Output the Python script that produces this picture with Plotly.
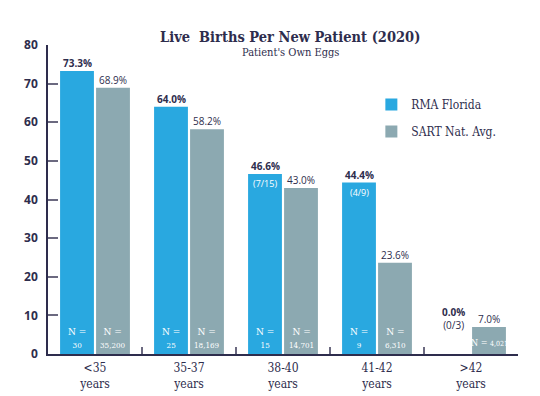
import plotly.graph_objects as go

categories = ["<35<br>years", "35-37<br>years", "38-40<br>years", "41-42<br>years", ">42<br>years"]
rma_values = [73.3, 64.0, 46.6, 44.4, 0.0]
sart_values = [68.9, 58.2, 43.0, 23.6, 7.0]
rma_fraction = ["", "", "(7/15)", "(4/9)", ""]
rma_n = ["30", "25", "15", "9", ""]
sart_n = ["35,200", "18,169", "14,701", "6,310", "4,021"]
y_ticks = [0, 10, 20, 30, 40, 50, 60, 70, 80]

NAVY = "#2e2d4d"
BLUE = "#29a8e0"
GRAY = "#8ca9b1"
SERIF = "DejaVu Serif Condensed"
SANS = "Open Sans"

BARGAP = 0.234
slot = (1 - BARGAP) / 2
d = slot / 2

fig = go.Figure()
fig.add_trace(go.Bar(name="RMA Florida", x=categories, y=rma_values,
                     marker=dict(color=BLUE, line=dict(width=0)), legendgroup="a"))
fig.add_trace(go.Bar(name="SART Nat. Avg.", x=categories, y=sart_values,
                     marker=dict(color=GRAY, line=dict(width=0)), legendgroup="b"))

ann = []
for i in range(len(categories)):
    xr = i - d
    xs = i + d
    if rma_values[i] > 0:
        ann.append(dict(x=xr, y=rma_values[i], text=f"{rma_values[i]:.1f}%", showarrow=False,
                        yanchor="bottom", yshift=-1, font=dict(family=SANS, size=10, color=NAVY, weight="bold")))
        if rma_fraction[i]:
            ann.append(dict(x=xr, y=rma_values[i], text=rma_fraction[i], showarrow=False,
                            yanchor="top", yshift=-1, font=dict(family=SANS, size=9, color="white")))
        ann.append(dict(x=xr, y=0, text="N =<br><span style='font-size:8px'>" + rma_n[i] + "</span>",
                        showarrow=False, yanchor="bottom", yshift=2,
                        font=dict(family=SERIF, size=10, color="white")))
    else:
        ann.append(dict(x=xr, y=0, text=f"<b>{rma_values[i]:.1f}%</b><br>(0/3)", showarrow=False,
                        yanchor="bottom", yshift=20, font=dict(family=SANS, size=10, color=NAVY)))
    ann.append(dict(x=xs, y=sart_values[i], text=f"{sart_values[i]:.1f}%", showarrow=False,
                    yanchor="bottom", yshift=-1, font=dict(family=SANS, size=10, color=NAVY)))
    if sart_values[i] > 15:
        ann.append(dict(x=xs, y=0, text="N =<br><span style='font-size:8px'>" + sart_n[i] + "</span>",
                        showarrow=False, yanchor="bottom", yshift=2,
                        font=dict(family=SERIF, size=10, color="white")))
    else:
        ann.append(dict(x=xs, y=0, text="N = <span style='font-size:7px'>" + sart_n[i] + "</span>",
                        showarrow=False, yanchor="bottom", yshift=4,
                        font=dict(family=SERIF, size=9, color="white")))

ann.append(dict(xref="paper", yref="paper", x=0.515, y=1.029, yanchor="middle",
                text="<b>Live  Births Per New Patient (2020)</b>", showarrow=False,
                font=dict(family=SERIF, size=14.5, color=NAVY)))
ann.append(dict(xref="paper", yref="paper", x=0.515, y=0.975, yanchor="middle",
                text="Patient's Own Eggs", showarrow=False,
                font=dict(family=SERIF, size=11, color=NAVY)))

fig.update_layout(
    width=540, height=396,
    margin=dict(l=40, r=30, t=37, b=50),
    paper_bgcolor="white", plot_bgcolor="white",
    barmode="group", bargap=BARGAP, bargroupgap=0.06,
    showlegend=True,
    legend=dict(x=0.688, y=0.854, xanchor="left", yanchor="top", bgcolor="rgba(0,0,0,0)",
                font=dict(family=SERIF, size=12, color=NAVY), tracegroupgap=8,
                traceorder="grouped"),
    annotations=ann,
    xaxis=dict(type="category", showline=True, linecolor=NAVY, linewidth=1.5,
               ticks="inside", ticklen=7, tickcolor="#6b6980", tickwidth=1.5,
               tickson="boundaries", showgrid=False, zeroline=False, ticklabelstandoff=2,
               tickfont=dict(family=SERIF, size=12, color=NAVY)),
    yaxis=dict(range=[0, 80], tickvals=y_ticks, showline=True, linecolor=NAVY, linewidth=1.5,
               ticks="inside", ticklen=10, tickcolor="#6b6980", tickwidth=1.5,
               showgrid=False, zeroline=False, ticklabelstandoff=6,
               tickfont=dict(family=SANS, size=12, color=NAVY, weight="bold")),
)

fig.write_html("out.html")
